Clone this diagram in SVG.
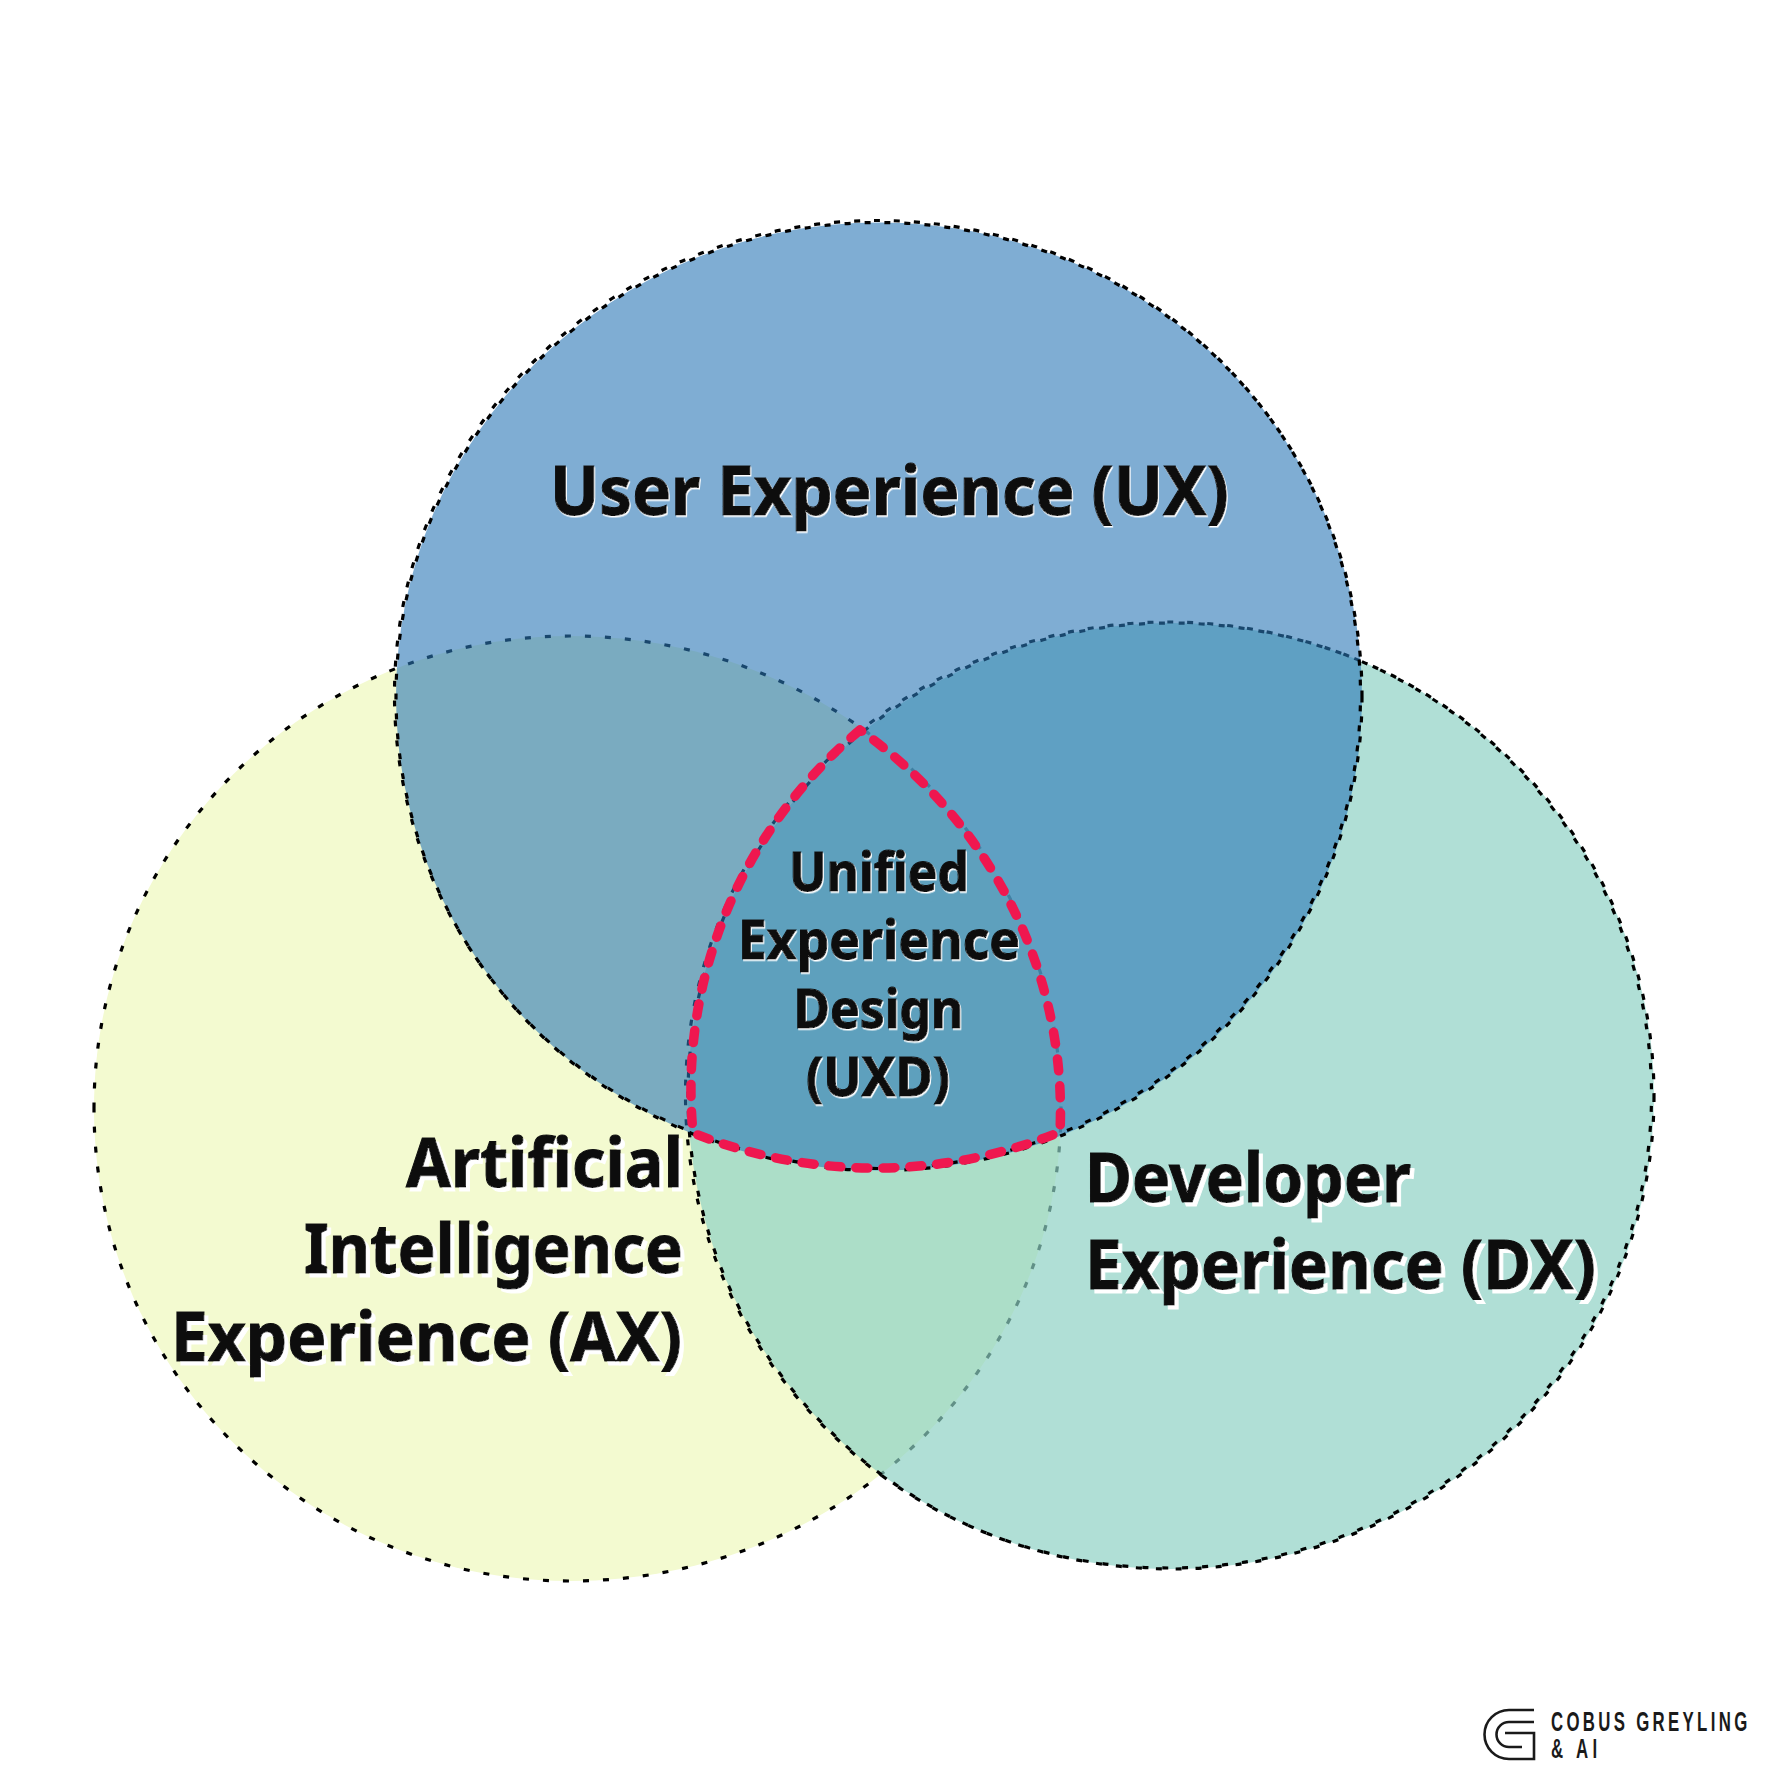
<svg xmlns="http://www.w3.org/2000/svg" width="1782" height="1788" viewBox="0 0 1782 1788">
<style>
.dot{fill:none;stroke:#000;stroke-width:3.2;stroke-dasharray:6 14;stroke-linecap:butt}
.lab{font-family:"Noto Sans","Liberation Sans",sans-serif;font-weight:700;fill:#111;stroke:#111;stroke-width:1;filter:url(#sh)}
.big{font-size:69px}
.mid{font-size:53px;filter:url(#shs)}
.thin{filter:url(#shs)}
.logo{font-family:"Liberation Sans",sans-serif;font-size:28px;font-weight:700;fill:#1a1a1a}
</style>
<defs>
<filter id="sh" x="-5%" y="-10%" width="110%" height="125%"><feDropShadow dx="4" dy="4" stdDeviation="0" flood-color="#fff"/></filter>
<filter id="shs" x="-5%" y="-10%" width="110%" height="125%"><feDropShadow dx="1" dy="1.5" stdDeviation="0" flood-color="#fff"/></filter>
<path id="ax-shape" d="M94 1108.5C94 847 307 636 570 636C841 636 1061 847 1061 1108.5C1061 1370 841 1581 570 1581C307 1581 94 1370 94 1108.5Z"/>
</defs>
<rect width="1782" height="1788" fill="#fff"/>
<g id="node-ax">
<use href="#ax-shape" fill="#f3fad0"/>
<use href="#ax-shape" class="dot"/>
<text class="lab big" x="406" y="1187" textLength="277" lengthAdjust="spacingAndGlyphs">Artificial</text>
<text class="lab big" x="304" y="1273" textLength="379" lengthAdjust="spacingAndGlyphs">Intelligence</text>
<text class="lab big" x="171" y="1361" textLength="511" lengthAdjust="spacingAndGlyphs">Experience (AX)</text>
</g>
<g id="node-dx">
<ellipse cx="1171" cy="1096" rx="483" ry="473" fill="#8cd0c3" fill-opacity=".69"/>
<ellipse class="dot" cx="1171" cy="1096" rx="483" ry="473"/>
<ellipse class="dot" cx="1168.5" cy="1095" rx="483" ry="473" stroke-dashoffset="9"/>
<text class="lab big" x="1085" y="1202" textLength="326" lengthAdjust="spacingAndGlyphs">Developer</text>
<text class="lab big" x="1085" y="1289" textLength="511" lengthAdjust="spacingAndGlyphs">Experience (DX)</text>
</g>
<g id="node-ux">
<ellipse cx="879" cy="696.5" rx="483" ry="474" fill="#2a76b6" fill-opacity=".6"/>
<ellipse class="dot" cx="879" cy="696.5" rx="483" ry="474"/>
<ellipse class="dot" cx="877.5" cy="694.5" rx="483" ry="474" stroke-dashoffset="9"/>
<text class="lab big thin" x="550" y="515" textLength="679" lengthAdjust="spacingAndGlyphs">User Experience (UX)</text>
</g>
<g id="node-uxd">
<path d="M860 730A483 473 0 0 0 693 1133A483 474 0 0 0 1060 1132A491 473 0 0 0 860 730Z" fill="none" stroke="#ef174f" stroke-width="9.5" stroke-linecap="round" stroke-linejoin="round" stroke-dasharray="12 15"/>
<text class="lab mid" text-anchor="middle" x="879" y="891" textLength="180" lengthAdjust="spacingAndGlyphs">Unified</text>
<text class="lab mid" text-anchor="middle" x="879" y="959" textLength="282" lengthAdjust="spacingAndGlyphs">Experience</text>
<text class="lab mid" text-anchor="middle" x="878.5" y="1028" textLength="170" lengthAdjust="spacingAndGlyphs">Design</text>
<text class="lab mid" text-anchor="middle" x="878" y="1096" textLength="144" lengthAdjust="spacingAndGlyphs">(UXD)</text>
</g>
<g id="logo">
<path d="M1534 1710H1509A24.5 24.5 0 0 0 1509 1759H1534V1733H1505M1534 1722H1509A12.5 12.5 0 0 0 1509 1747H1522" fill="none" stroke="#1a1a1a" stroke-width="2.6"/>
<text class="logo" transform="translate(1551 1731) scale(.6 1)" textLength="327" lengthAdjust="spacing">COBUS GREYLING</text>
<text class="logo" transform="translate(1551 1758) scale(.6 1)" textLength="77" lengthAdjust="spacing">&amp; AI</text>
</g>
</svg>
